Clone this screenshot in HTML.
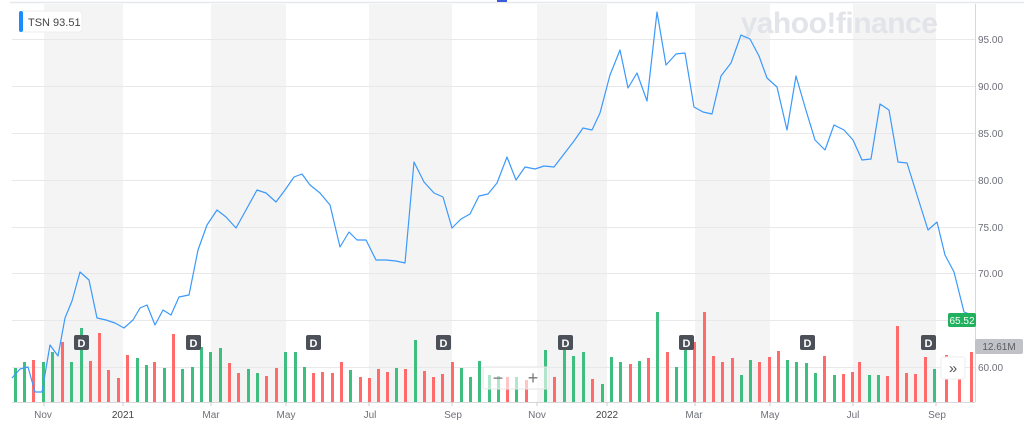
<!DOCTYPE html>
<html><head><meta charset="utf-8"><style>
body{margin:0;background:#fff;width:1024px;height:434px;overflow:hidden;font-family:"Liberation Sans",sans-serif}
</style></head><body>
<svg width="1024" height="434" viewBox="0 0 1024 434" xmlns="http://www.w3.org/2000/svg" font-family="Liberation Sans, sans-serif">
<rect x="0" y="0" width="1024" height="434" fill="#fff"/>
<line x1="10" y1="2.5" x2="1024" y2="2.5" stroke="#e6e8ec" stroke-width="1.5"/>
<rect x="497" y="0" width="10" height="2" fill="#3b5bdb"/>
<g fill="#f4f4f5">
<rect x="44" y="4" width="79" height="398"/>
<rect x="211" y="4" width="75" height="398"/>
<rect x="369" y="4" width="83" height="398"/>
<rect x="537" y="4" width="70" height="398"/>
<rect x="695" y="4" width="75" height="398"/>
<rect x="853" y="4" width="83" height="398"/>
</g>
<text x="839" y="33" font-size="30" font-weight="bold" fill="#e2e4e9" text-anchor="middle" letter-spacing="-0.5">yahoo!finance</text>
<g stroke="#e8e8ea" stroke-width="1">
<line x1="12" y1="39.5" x2="975" y2="39.5"/><line x1="12" y1="86.5" x2="975" y2="86.5"/>
<line x1="12" y1="133.5" x2="975" y2="133.5"/><line x1="12" y1="180.5" x2="975" y2="180.5"/>
<line x1="12" y1="227.5" x2="975" y2="227.5"/><line x1="12" y1="273.5" x2="975" y2="273.5"/>
<line x1="12" y1="320.5" x2="975" y2="320.5"/><line x1="12" y1="367.5" x2="975" y2="367.5"/>
</g>
<line x1="975.5" y1="4" x2="975.5" y2="402" stroke="#d8d8dc"/>
<line x1="12" y1="402.5" x2="975" y2="402.5" stroke="#d8d8dc"/>
<g fill="#6e7079" font-size="10">
<text x="978" y="43">95.00</text><text x="978" y="90">90.00</text><text x="978" y="137">85.00</text>
<text x="978" y="184">80.00</text><text x="978" y="231">75.00</text><text x="978" y="277">70.00</text>
<text x="978" y="371">60.00</text>
</g>
<g id="bars">
<rect x="14" y="368" width="3" height="34" fill="#3fbf7f"/><rect x="23" y="362" width="3" height="40" fill="#3fbf7f"/>
<rect x="32" y="360" width="3" height="42" fill="#ff6b6b"/><rect x="42" y="362" width="3" height="40" fill="#3fbf7f"/>
<rect x="51" y="352" width="3" height="50" fill="#3fbf7f"/><rect x="61" y="342" width="3" height="60" fill="#ff6b6b"/>
<rect x="70" y="362" width="3" height="40" fill="#3fbf7f"/><rect x="80" y="328" width="3" height="74" fill="#3fbf7f"/>
<rect x="89" y="361" width="3" height="41" fill="#ff6b6b"/><rect x="98" y="333" width="3" height="69" fill="#ff6b6b"/>
<rect x="107" y="370" width="3" height="32" fill="#ff6b6b"/><rect x="117" y="378" width="3" height="24" fill="#ff6b6b"/>
<rect x="126" y="355" width="3" height="47" fill="#ff6b6b"/><rect x="136" y="358" width="3" height="44" fill="#3fbf7f"/>
<rect x="145" y="365" width="3" height="37" fill="#3fbf7f"/><rect x="153" y="362" width="3" height="40" fill="#ff6b6b"/>
<rect x="163" y="368" width="3" height="34" fill="#3fbf7f"/><rect x="172" y="334" width="3" height="68" fill="#ff6b6b"/>
<rect x="181" y="369" width="3" height="33" fill="#3fbf7f"/><rect x="191" y="367" width="3" height="35" fill="#3fbf7f"/>
<rect x="200" y="347" width="3" height="55" fill="#3fbf7f"/><rect x="209" y="352" width="3" height="50" fill="#3fbf7f"/>
<rect x="219" y="348" width="3" height="54" fill="#3fbf7f"/><rect x="228" y="363" width="3" height="39" fill="#ff6b6b"/>
<rect x="237" y="373" width="3" height="29" fill="#ff6b6b"/><rect x="247" y="369" width="3" height="33" fill="#3fbf7f"/>
<rect x="256" y="373" width="3" height="29" fill="#3fbf7f"/><rect x="265" y="376" width="3" height="26" fill="#ff6b6b"/>
<rect x="275" y="368" width="3" height="34" fill="#ff6b6b"/><rect x="284" y="352" width="3" height="50" fill="#3fbf7f"/>
<rect x="294" y="352" width="3" height="50" fill="#3fbf7f"/><rect x="303" y="367" width="3" height="35" fill="#3fbf7f"/>
<rect x="312" y="373" width="3" height="29" fill="#ff6b6b"/><rect x="321" y="372" width="3" height="30" fill="#ff6b6b"/>
<rect x="331" y="373" width="3" height="29" fill="#ff6b6b"/><rect x="340" y="362" width="3" height="40" fill="#ff6b6b"/>
<rect x="349" y="370" width="3" height="32" fill="#3fbf7f"/><rect x="359" y="377" width="3" height="25" fill="#ff6b6b"/>
<rect x="368" y="378" width="3" height="24" fill="#ff6b6b"/><rect x="377" y="369" width="3" height="33" fill="#ff6b6b"/>
<rect x="386" y="372" width="3" height="30" fill="#ff6b6b"/><rect x="395" y="368" width="3" height="34" fill="#3fbf7f"/>
<rect x="404" y="369" width="3" height="33" fill="#ff6b6b"/><rect x="414" y="340" width="3" height="62" fill="#3fbf7f"/>
<rect x="423" y="371" width="3" height="31" fill="#ff6b6b"/><rect x="432" y="377" width="3" height="25" fill="#ff6b6b"/>
<rect x="441" y="374" width="3" height="28" fill="#ff6b6b"/><rect x="451" y="362" width="3" height="40" fill="#ff6b6b"/>
<rect x="460" y="368" width="3" height="34" fill="#3fbf7f"/><rect x="469" y="377" width="3" height="25" fill="#3fbf7f"/>
<rect x="478" y="361" width="3" height="41" fill="#3fbf7f"/><rect x="488" y="375" width="3" height="27" fill="#3fbf7f"/>
<rect x="497" y="376" width="3" height="26" fill="#3fbf7f"/><rect x="506" y="377" width="3" height="25" fill="#ff6b6b"/>
<rect x="515" y="377" width="3" height="25" fill="#3fbf7f"/><rect x="525" y="380" width="3" height="22" fill="#ff6b6b"/>
<rect x="544" y="350" width="3" height="52" fill="#3fbf7f"/><rect x="553" y="377" width="3" height="25" fill="#ff6b6b"/>
<rect x="563" y="347" width="3" height="55" fill="#3fbf7f"/><rect x="572" y="356" width="3" height="46" fill="#3fbf7f"/>
<rect x="582" y="352" width="3" height="50" fill="#3fbf7f"/><rect x="591" y="379" width="3" height="23" fill="#ff6b6b"/>
<rect x="601" y="384" width="3" height="18" fill="#3fbf7f"/><rect x="610" y="357" width="3" height="45" fill="#3fbf7f"/>
<rect x="619" y="362" width="3" height="40" fill="#3fbf7f"/><rect x="629" y="364" width="3" height="38" fill="#ff6b6b"/>
<rect x="638" y="361" width="3" height="41" fill="#3fbf7f"/><rect x="647" y="358" width="3" height="44" fill="#ff6b6b"/>
<rect x="656" y="312" width="3" height="90" fill="#3fbf7f"/><rect x="666" y="352" width="3" height="50" fill="#ff6b6b"/>
<rect x="675" y="367" width="3" height="35" fill="#3fbf7f"/><rect x="684" y="350" width="3" height="52" fill="#3fbf7f"/>
<rect x="693" y="342" width="3" height="60" fill="#ff6b6b"/><rect x="703" y="312" width="3" height="90" fill="#ff6b6b"/>
<rect x="712" y="356" width="3" height="46" fill="#ff6b6b"/><rect x="721" y="362" width="3" height="40" fill="#ff6b6b"/>
<rect x="731" y="358" width="3" height="44" fill="#ff6b6b"/><rect x="740" y="375" width="3" height="27" fill="#3fbf7f"/>
<rect x="749" y="360" width="3" height="42" fill="#3fbf7f"/><rect x="758" y="362" width="3" height="40" fill="#ff6b6b"/>
<rect x="768" y="357" width="3" height="45" fill="#ff6b6b"/><rect x="777" y="351" width="3" height="51" fill="#ff6b6b"/>
<rect x="786" y="360" width="3" height="42" fill="#3fbf7f"/><rect x="795" y="362" width="3" height="40" fill="#3fbf7f"/>
<rect x="805" y="363" width="3" height="39" fill="#3fbf7f"/><rect x="814" y="373" width="3" height="29" fill="#3fbf7f"/>
<rect x="823" y="356" width="3" height="46" fill="#ff6b6b"/><rect x="833" y="375" width="3" height="27" fill="#3fbf7f"/>
<rect x="842" y="374" width="3" height="28" fill="#ff6b6b"/><rect x="851" y="372" width="3" height="30" fill="#ff6b6b"/>
<rect x="858" y="362" width="3" height="40" fill="#ff6b6b"/><rect x="868" y="375" width="3" height="27" fill="#3fbf7f"/>
<rect x="877" y="375" width="3" height="27" fill="#3fbf7f"/><rect x="886" y="376" width="3" height="26" fill="#ff6b6b"/>
<rect x="896" y="326" width="3" height="76" fill="#ff6b6b"/><rect x="905" y="373" width="3" height="29" fill="#ff6b6b"/>
<rect x="914" y="374" width="3" height="28" fill="#ff6b6b"/><rect x="924" y="357" width="3" height="45" fill="#ff6b6b"/>
<rect x="933" y="369" width="3" height="33" fill="#3fbf7f"/><rect x="945" y="355" width="3" height="47" fill="#ff6b6b"/>
<rect x="958" y="375" width="3" height="27" fill="#ff6b6b"/><rect x="970" y="352" width="3" height="50" fill="#ff6b6b"/>
</g>
<polyline fill="none" stroke="#3b99fc" stroke-width="1.2" stroke-linejoin="round" points="12,378 20,369 28,367 35,392 42,392 50,345 58,356 65,318 72,301 80,272 89,280 97,318 106,320 115,323 124,328 133,320 140,308 147,305 155,325 163,310 171,315 179,297 189,295 198,250 207,225 217,210 226,217 236,228 246,210 257,190 266,193 276,202 285,190 294,177 302,174 310,185 320,193 330,205 340,247 349,232 357,240 366,240 376,260 386,260 396,261 405,263 414,162 424,182 434,193 443,197 452,228 461,219 470,214 479,196 488,194 497,183 507,157 516,180 525,167 535,169 544,166 554,167 564,154 574,141 583,128 592,130 600,113 610,75 620,50 628,88 637,73 647,101 657,12 666,65 676,54 685,53 694,107 703,112 712,114 721,76 731,63 741,35 750,39 759,56 767,78 777,87 787,130 796,76 805,107 815,140 825,150 834,125 844,130 853,140 862,160 871,159 880,104 889,110 898,162 907,163 917,195 928,230 937,222 945,255 954,272 964,312 972,315"/>
<rect x="948" y="313" width="28" height="14" rx="2" fill="#20b05e"/>
<text x="962" y="324" font-size="10" fill="#fff" text-anchor="middle">65.52</text>
<rect x="975" y="339" width="48" height="15" rx="2" fill="#c0c2c8"/>
<text x="999" y="350" font-size="10" fill="#5a5c63" text-anchor="middle">12.61M</text>
<g fill="#4c5058" font-size="10" font-weight="bold" text-anchor="middle">
<rect x="74" y="335" width="15" height="15" rx="2"/><rect x="186" y="335" width="15" height="15" rx="2"/>
<rect x="306" y="335" width="15" height="15" rx="2"/><rect x="436" y="335" width="15" height="15" rx="2"/>
<rect x="558" y="335" width="15" height="15" rx="2"/><rect x="679" y="335" width="15" height="15" rx="2"/>
<rect x="800" y="335" width="15" height="15" rx="2"/><rect x="921" y="335" width="15" height="15" rx="2"/>
</g>
<g fill="#fff" font-size="11" font-weight="bold" text-anchor="middle">
<text x="81.5" y="347">D</text><text x="193.5" y="347">D</text><text x="313.5" y="347">D</text><text x="443.5" y="347">D</text>
<text x="565.5" y="347">D</text><text x="686.5" y="347">D</text><text x="807.5" y="347">D</text><text x="928.5" y="347">D</text>
</g>
<rect x="483" y="367" width="66" height="22" rx="2" fill="#fff" fill-opacity="0.6" stroke="#e6e6e8"/>
<text x="498" y="384" font-size="18" fill="#777" text-anchor="middle">−</text>
<text x="533" y="384" font-size="18" fill="#777" text-anchor="middle">+</text>
<rect x="941" y="357" width="24" height="22" rx="2" fill="#fff" stroke="#eee"/>
<text x="953" y="373" font-size="15" fill="#555" text-anchor="middle">»</text>
<g fill="#6e7079" font-size="10" text-anchor="middle">
<text x="43" y="418">Nov</text><text x="123" y="418" fill="#444">2021</text><text x="211" y="418">Mar</text>
<text x="286" y="418">May</text><text x="370" y="418">Jul</text><text x="453" y="418">Sep</text>
<text x="537" y="418">Nov</text><text x="607" y="418" fill="#444">2022</text><text x="694" y="418">Mar</text>
<text x="770" y="418">May</text><text x="853" y="418">Jul</text><text x="937" y="418">Sep</text>
</g>
<g stroke="#ccc"><line x1="44" y1="402" x2="44" y2="406"/><line x1="123" y1="402" x2="123" y2="406"/><line x1="211" y1="402" x2="211" y2="406"/><line x1="286" y1="402" x2="286" y2="406"/><line x1="369" y1="402" x2="369" y2="406"/><line x1="452" y1="402" x2="452" y2="406"/><line x1="537" y1="402" x2="537" y2="406"/><line x1="607" y1="402" x2="607" y2="406"/><line x1="695" y1="402" x2="695" y2="406"/><line x1="770" y1="402" x2="770" y2="406"/><line x1="853" y1="402" x2="853" y2="406"/><line x1="936" y1="402" x2="936" y2="406"/></g>
<rect x="20" y="11" width="62" height="21" rx="3" fill="#fff" stroke="#eee"/>
<rect x="19" y="11" width="4" height="21" rx="2" fill="#1a8cff"/>
<text x="28" y="26" font-size="11" fill="#444">TSN 93.51</text>
</svg>
</body></html>
